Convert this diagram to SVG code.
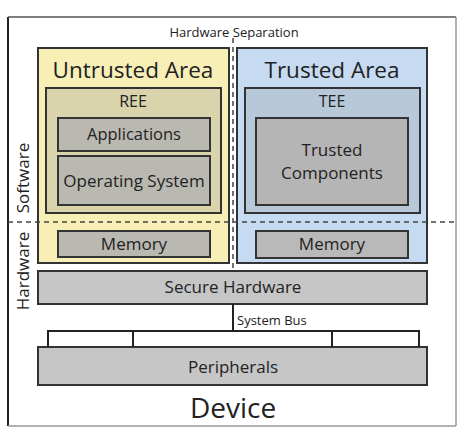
<svg xmlns="http://www.w3.org/2000/svg" width="474" height="438" viewBox="0 0 474 438">
<style>
text{font-family:"Open Sans","Noto Sans","Liberation Sans",sans-serif;fill:#222;text-anchor:middle}
.box{stroke:#333;stroke-width:2}
.dash{stroke:#444;stroke-width:1.5;stroke-dasharray:5,4;fill:none}
.bus{stroke:#222;stroke-width:2;fill:none}
.lbl{font-size:17px}
.small{font-size:13px}
</style>
<rect x="0" y="0" width="474" height="438" fill="#fff"/>
<g id="device">
<line x1="8" y1="17" x2="8" y2="426" stroke="#222" stroke-width="2"/>
<line x1="8" y1="17" x2="456" y2="17" stroke="#555" stroke-width="1.5"/>
<line x1="456" y1="17" x2="456" y2="426" stroke="#999" stroke-width="1.5"/>
<line x1="8" y1="426" x2="456" y2="426" stroke="#999" stroke-width="1.5"/>
<text x="233" y="418" style="font-size:28px">Device</text>
</g>
<g id="untrusted-area">
<rect class="box" x="38" y="48" width="191" height="215" fill="#f8efb6"/>
<text x="133" y="78" style="font-size:22.5px">Untrusted Area</text>
</g>
<g id="ree">
<rect class="box" x="46" y="88" width="175" height="125" fill="#d9d4ab"/>
<text x="133" y="107" style="font-size:16px">REE</text>
</g>
<g id="applications">
<rect class="box" x="58" y="118" width="152" height="33" fill="#bab9b1"/>
<text x="134" y="140" style="font-size:16.5px">Applications</text>
</g>
<g id="operating-system">
<rect class="box" x="58" y="156" width="152" height="49" fill="#bab9b1"/>
<text class="lbl" x="134" y="187">Operating System</text>
</g>
<g id="memory-untrusted">
<rect class="box" x="58" y="231" width="152" height="26" fill="#bab9b1"/>
<text class="lbl" x="134" y="250">Memory</text>
</g>
<g id="trusted-area">
<rect class="box" x="237" y="48" width="190" height="215" fill="#c6dbf1"/>
<text x="332" y="78" style="font-size:22.5px">Trusted Area</text>
</g>
<g id="tee">
<rect class="box" x="245" y="88" width="175" height="125" fill="#b7c8d9"/>
<text x="332" y="107" style="font-size:16px">TEE</text>
</g>
<g id="trusted-components">
<rect class="box" x="256" y="118" width="152" height="87" fill="#b5b5b5"/>
<text class="lbl" x="332" y="156">Trusted</text>
<text class="lbl" x="332" y="179">Components</text>
</g>
<g id="memory-trusted">
<rect class="box" x="256" y="231" width="152" height="27" fill="#b9b9b9"/>
<text class="lbl" x="332" y="250">Memory</text>
</g>
<g id="secure-hardware">
<rect class="box" x="38" y="271" width="389" height="33" fill="#c6c6c6"/>
<text class="lbl" x="233" y="293">Secure Hardware</text>
</g>
<g id="peripherals">
<rect class="box" x="38" y="347" width="389" height="38" fill="#c6c6c6"/>
<text class="lbl" x="233" y="373">Peripherals</text>
</g>
<g id="labels">
<text class="small" x="234" y="37">Hardware Separation</text>
<text x="0" y="0" class="lbl" transform="translate(29,178) rotate(-90)">Software</text>
<text x="0" y="0" class="lbl" transform="translate(29,271) rotate(-90)">Hardware</text>
<text class="small" x="237" y="325" style="text-anchor:start">System Bus</text>
</g>
<g id="connectors">
<line class="dash" x1="233" y1="38" x2="233" y2="271"/>
<line class="dash" x1="8" y1="222" x2="456" y2="222"/>
<line class="bus" x1="233" y1="304" x2="233" y2="331"/>
<polyline class="bus" points="48,347 48,331 419,331 419,347"/>
<line class="bus" x1="133" y1="331" x2="133" y2="347"/>
<line class="bus" x1="332" y1="331" x2="332" y2="347"/>
</g>
</svg>
